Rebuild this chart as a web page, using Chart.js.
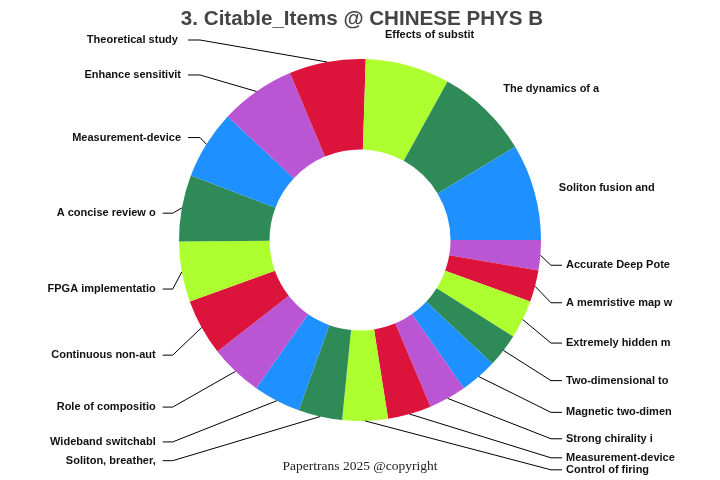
<!DOCTYPE html>
<html>
<head>
<meta charset="utf-8">
<script src="https://cdn.jsdelivr.net/npm/chart.js@4/dist/chart.umd.min.js"></script>
<style>
  html, body { margin: 0; padding: 0; background: #ffffff; }
  #wrap { width: 720px; height: 480px; }
</style>
</head>
<body>
<div id="wrap"><canvas id="c" width="720" height="480"></canvas></div>
<script>
const titleText = '3. Citable_Items @ CHINESE PHYS B';
const footerText = 'Papertrans 2025 @copyright';

// Categories in source order (drawn counter-clockwise from 3 o'clock)
const categories = [
  'Soliton fusion and',
  'The dynamics of a ',
  'Effects of substit',
  'Theoretical study ',
  'Enhance sensitivit',
  'Measurement-device',
  'A concise review o',
  'FPGA implementatio',
  'Continuous non-aut',
  'Role of compositio',
  'Wideband switchabl',
  'Soliton, breather,',
  'Control of firing ',
  'Measurement-device',
  'Strong chirality i',
  'Magnetic two-dimen',
  'Two-dimensional to',
  'Extremely hidden m',
  'A memristive map w',
  'Accurate Deep Pote'
];

const values = [31.0, 30.1, 27.1, 24.6, 24.2, 22.2, 21.3, 19.4, 18.2, 17.0,
                15.2, 14.1, 14.6, 14.0, 12.1, 12.0, 10.8, 12.3, 10.2, 9.7];

const palette = ['#1E90FF', '#2E8B57', '#ADFF2F', '#DC143C', '#BA55D3'];

// Chart.js draws clockwise; reverse so the source order runs counter-clockwise.
const drawLabels = categories.slice().reverse();
const drawValues = values.slice().reverse();
const drawColors = categories.map((_, i) => palette[i % palette.length]).reverse();

function spread(list, minY, maxY, gap) {
  if (!list.length) return;
  list.sort((a, b) => a.y - b.y);
  const first = list[0].y, last = list[list.length - 1].y;
  if (first < minY && last > first) {
    const d = minY - first;
    list.forEach(it => { it.y += d * (last - it.y) / (last - first); });
  }
  for (let i = 1; i < list.length; i++) list[i].y = Math.max(list[i].y, list[i - 1].y + gap);
  list[list.length - 1].y = Math.min(list[list.length - 1].y, maxY);
  for (let i = list.length - 2; i >= 0; i--) list[i].y = Math.min(list[i].y, list[i + 1].y - gap);
}

const outLabels = {
  id: 'outLabels',
  afterDraw(chart) {
    const ctx = chart.ctx;
    const meta = chart.getDatasetMeta(0);
    const items = meta.data.map((arc, i) => {
      const p = arc.getProps(['x', 'y', 'startAngle', 'endAngle', 'outerRadius'], true);
      const mid = (p.startAngle + p.endAngle) / 2;
      const c = Math.cos(mid), s = Math.sin(mid);
      return {
        text: chart.data.labels[i], cx: p.x, cy: p.y, R: p.outerRadius, c, s,
        px: p.x + p.outerRadius * c, py: p.y + p.outerRadius * s,
        y: p.y + 1.25 * p.outerRadius * s
      };
    });
    const right = items.filter(it => it.c >= 0);
    const left = items.filter(it => it.c < 0);
    spread(right, 35, 470, 12);
    spread(left, 40, 470, 12);

    ctx.save();
    ctx.font = 'bold 11px "Liberation Sans", Arial, sans-serif';
    ctx.fillStyle = '#111';
    ctx.strokeStyle = '#000';
    ctx.lineWidth = 1;
    ctx.textBaseline = 'middle';

    right.forEach(it => {
      if (it.s < 0) {
        let x;
        if (it.c < 0.35) { ctx.textAlign = 'center'; x = it.cx + 1.45 * it.R * it.c; }
        else { ctx.textAlign = 'left'; x = it.cx + 1.14 * it.R * it.c; }
        ctx.fillText(it.text, x, it.y);
      } else {
        const ex = it.cx + it.R + 10;
        ctx.beginPath();
        ctx.moveTo(it.px, it.py);
        ctx.lineTo(ex, it.y);
        ctx.lineTo(ex + 11, it.y);
        ctx.stroke();
        ctx.textAlign = 'left';
        ctx.fillText(it.text, ex + 15, it.y);
      }
    });

    left.forEach(it => {
      const upper = it.s < -0.4;
      const ex = upper ? it.cx - 0.884 * it.R : it.cx - it.R - 6.3;
      const len2 = upper ? 12 : 10;
      ctx.beginPath();
      ctx.moveTo(it.px, it.py);
      ctx.lineTo(ex, it.y);
      ctx.lineTo(ex - len2, it.y);
      ctx.stroke();
      ctx.textAlign = 'right';
      ctx.fillText(it.text, ex - len2 - 7, it.y);
    });

    // title
    ctx.font = 'bold 20.6px "Liberation Sans", Arial, sans-serif';
    ctx.fillStyle = '#444';
    ctx.textAlign = 'center';
    ctx.textBaseline = 'alphabetic';
    ctx.fillText(titleText, chart.width / 2 + 2, 25);

    // footer
    ctx.font = '13.5px "Liberation Serif", "Times New Roman", serif';
    ctx.fillStyle = '#222';
    ctx.textBaseline = 'middle';
    ctx.fillText(footerText, chart.width / 2, 466);
    ctx.restore();
  }
};

new Chart(document.getElementById('c'), {
  type: 'doughnut',
  data: {
    labels: drawLabels,
    datasets: [{
      data: drawValues,
      backgroundColor: drawColors,
      borderWidth: 0
    }]
  },
  options: {
    responsive: false,
    animation: false,
    devicePixelRatio: 1,
    rotation: 90,
    cutout: '50%',
    layout: { padding: { top: 59, bottom: 59, left: 0, right: 0 } },
    plugins: {
      legend: { display: false },
      tooltip: { enabled: false },
      title: { display: false }
    }
  },
  plugins: [outLabels]
});
</script>
</body>
</html>
